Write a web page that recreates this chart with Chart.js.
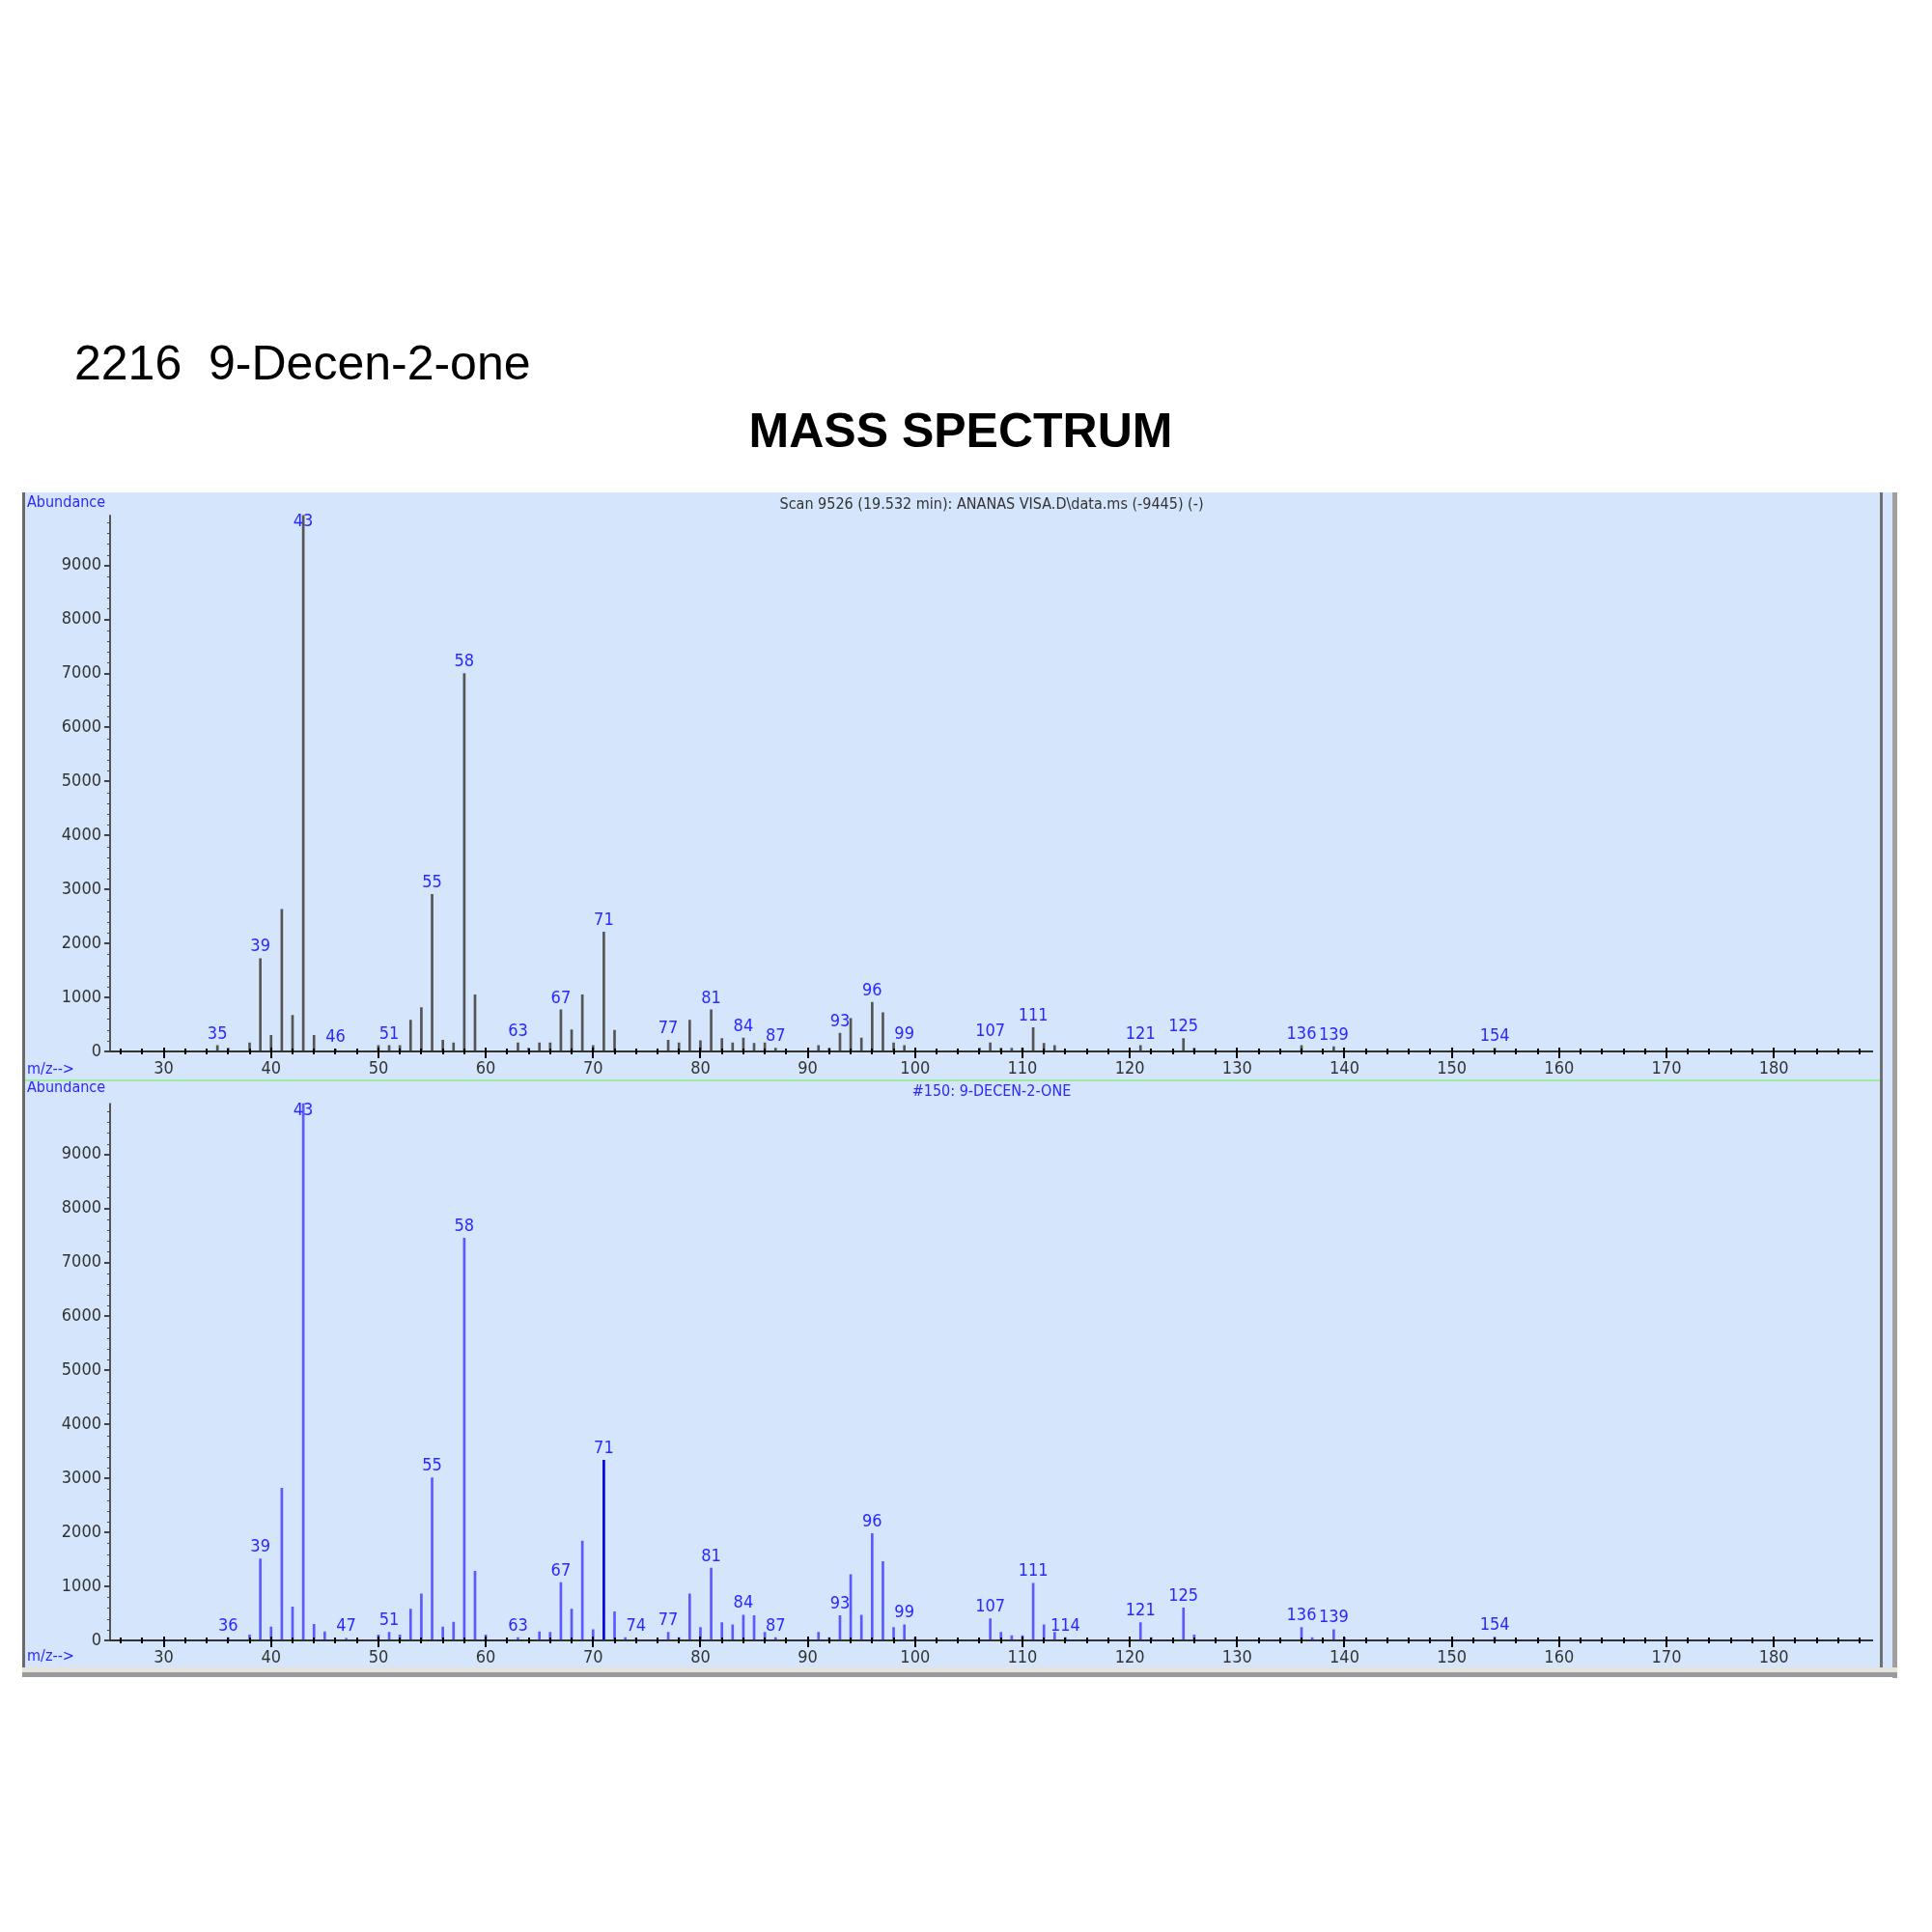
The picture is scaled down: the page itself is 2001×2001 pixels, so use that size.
<!DOCTYPE html>
<html>
<head>
<meta charset="utf-8">
<script src="https://cdn.jsdelivr.net/npm/chart.js@4.4.0/dist/chart.umd.min.js"></script>
<style>
  body { margin: 0; width: 2001px; height: 2001px; background: #fff; position: relative; overflow: hidden;
         font-family: "Liberation Sans", Arial, sans-serif; }
  #titulo { position: absolute; left: 77px; top: 347px; font-size: 50px; line-height: 58px; color: #000; }
  #subtitulo { position: absolute; left: 0; width: 1990px; top: 417px; text-align: center;
               font-size: 50px; line-height: 58px; font-weight: bold; color: #000; }
  #painel { position: absolute; left: 23px; top: 510px; width: 1942px; height: 1225px; background: rgb(213,229,251); }
  #bordaEsq { position: absolute; left: 23px; top: 510px; width: 3px; height: 1225px; background: #6a6a6a; }
  #bordaDir1 { position: absolute; left: 1947px; top: 510px; width: 3px; height: 1218px; background: #707070; }
  #bordaDir2 { position: absolute; left: 1960px; top: 510px; width: 5px; height: 1228px; background: #a0a0a0; }
  #bordaBaixo { position: absolute; left: 23px; top: 1727px; width: 1942px; height: 10px;
                background: linear-gradient(#e6e3dc 0 50%, #9a9a9a 50% 100%); }
  #linhaVerde { position: absolute; left: 26px; top: 1118px; width: 1921px; height: 2px; background: rgb(160,235,160); }
  canvas { position: absolute; }
  #graficoAmostra { left: 26px; top: 510px; }
  #graficoBiblioteca { left: 26px; top: 1120px; }
</style>
</head>
<body>
<div id="titulo">2216&nbsp;&nbsp;9-Decen-2-one</div>
<div id="subtitulo">MASS SPECTRUM</div>
<div id="painel"></div>
<div id="bordaEsq"></div>
<div id="bordaDir1"></div>
<div id="bordaDir2"></div>
<div id="bordaBaixo"></div>
<div id="linhaVerde"></div>
<canvas id="graficoAmostra" width="1920" height="608"></canvas>
<canvas id="graficoBiblioteca" width="1920" height="607"></canvas>

<script>
// Espectro medido (scan 9526)
const mzAmostra = [35, 36, 38, 39, 40, 41, 42, 43, 44, 46, 50, 51, 52, 53, 54, 55, 56, 57, 58, 59,
  63, 64, 65, 66, 67, 68, 69, 70, 71, 72, 77, 78, 79, 80, 81, 82, 83, 84, 85, 86,
  87, 91, 92, 93, 94, 95, 96, 97, 98, 99, 106, 107, 108, 109, 110, 111, 112, 113, 121, 125,
  126, 136, 139, 154];
const abAmostra = [110, 60, 160, 1720, 300, 2630, 670, 9930, 300, 40, 110, 110, 110, 580, 810, 2910, 210, 160, 7000, 1050,
  160, 60, 160, 160, 770, 400, 1050, 110, 2210, 390, 210, 160, 580, 200, 770, 240, 160, 250, 150, 160,
  60, 110, 60, 340, 610, 250, 910, 720, 160, 110, 60, 160, 60, 60, 60, 440, 150, 110, 110, 240,
  60, 110, 90, 60];
const rotulosAmostra = [35, 39, 43, 46, 51, 55, 58, 63, 67, 71, 77, 81, 84, 87, 93, 96, 99, 107, 111, 121, 125, 136, 139, 154];

// Espectro da biblioteca (#150)
const mzBiblioteca = [36, 38, 39, 40, 41, 42, 43, 44, 45, 47, 50, 51, 52, 53, 54, 55, 56, 57, 58, 59,
  60, 63, 65, 66, 67, 68, 69, 70, 71, 72, 73, 74, 77, 78, 79, 80, 81, 82, 83, 84,
  85, 86, 87, 91, 92, 93, 94, 95, 96, 97, 98, 99, 100, 107, 108, 109, 110, 111, 112, 113,
  114, 121, 122, 125, 126, 136, 137, 139, 140, 154];
const abBiblioteca = [50, 100, 1510, 250, 2820, 620, 9940, 300, 160, 40, 100, 150, 100, 580, 860, 3010, 250, 340, 7450, 1280,
  100, 50, 160, 150, 1070, 580, 1840, 200, 3340, 530, 50, 40, 150, 50, 860, 240, 1340, 330, 290, 470,
  460, 150, 50, 150, 50, 460, 1220, 470, 1980, 1460, 240, 290, 50, 400, 150, 90, 90, 1060, 290, 150,
  50, 330, 50, 600, 100, 240, 50, 200, 50, 60];
const rotulosBiblioteca = [36, 39, 43, 47, 51, 55, 58, 63, 67, 71, 74, 77, 81, 84, 87, 93, 96, 99, 107, 111, 114, 121, 125, 136, 139, 154];

const FONTE = "'Liberation Sans Narrow', 'DejaVu Sans Condensed', 'Arial Narrow', sans-serif";
const AZUL = 'rgb(40,40,255)';

// Desenha eixos, marcas, rótulos dos picos e textos do cabeçalho
function pluginEspectro(cfg) {
  return {
    id: 'espectro',
    afterDatasetsDraw(chart) {
      const ctx = chart.ctx;
      const area = chart.chartArea;
      const x = chart.scales.x;
      const y = chart.scales.y;
      ctx.save();

      // eixo y com marcas a cada 200
      ctx.strokeStyle = '#555';
      ctx.lineWidth = 2;
      ctx.beginPath();
      ctx.moveTo(area.left, y.getPixelForValue(0));
      ctx.lineTo(area.left, y.getPixelForValue(cfg.topoEixo));
      ctx.stroke();
      ctx.fillStyle = '#444';
      for (let v = 0; v <= 9800; v += 200) {
        const py = Math.round(y.getPixelForValue(v));
        if (v % 1000 === 0) ctx.fillRect(area.left - 6, py - 1, 6, 2);
        else ctx.fillRect(area.left - 3, py, 2, 1);
      }

      // eixo x com marcas a cada 2
      const base = Math.round(y.getPixelForValue(0));
      ctx.fillStyle = '#333';
      ctx.fillRect(area.left, base - 1, area.right - area.left, 2);
      ctx.fillStyle = '#000';
      for (let m = 26; m <= 188; m += 2) {
        const px = Math.round(x.getPixelForValue(m));
        if (m % 10 === 0) ctx.fillRect(px - 1, base - 4, 2, 11);
        else ctx.fillRect(px - 1, base - 3, 2, 6);
      }

      // rótulos dos picos
      ctx.font = '18px ' + FONTE;
      ctx.fillStyle = AZUL;
      ctx.textAlign = 'center';
      ctx.textBaseline = 'bottom';
      cfg.rotulos.forEach(m => {
        const i = cfg.mz.indexOf(m);
        const px = x.getPixelForValue(m);
        let py = y.getPixelForValue(cfg.ab[i]) - 3;
        py = Math.max(py, area.top + 20);
        ctx.fillText(String(m), px, py);
      });

      // textos do cabeçalho
      ctx.textBaseline = 'middle';
      ctx.textAlign = 'left';
      ctx.font = '16px ' + FONTE;
      ctx.fillStyle = AZUL;
      ctx.fillText('Abundance', 2, cfg.yAbundancia);
      ctx.fillText('m/z-->', 2, cfg.yMz);
      ctx.textAlign = 'center';
      ctx.fillStyle = cfg.corTitulo;
      ctx.fillText(cfg.titulo, 1001, cfg.yTitulo);
      ctx.restore();
    }
  };
}

function montarEspectro(idCanvas, cfg) {
  const dados = cfg.mz.map((m, i) => ({ x: m, y: cfg.ab[i] }));
  new Chart(document.getElementById(idCanvas), {
    type: 'bar',
    data: {
      datasets: [{
        data: dados,
        backgroundColor: cfg.corBarra,
        barThickness: 2,
        borderWidth: 0
      }]
    },
    options: {
      responsive: false,
      animation: false,
      layout: { padding: { left: 0, right: 6, top: cfg.topo, bottom: 0 } },
      plugins: { legend: { display: false }, tooltip: { enabled: false } },
      scales: {
        x: {
          type: 'linear',
          offset: false,
          min: 25.0,
          max: 189.25,
          grid: { display: false, drawTicks: false, offset: false },
          border: { display: false },
          ticks: { stepSize: 10, includeBounds: false, padding: 8, color: '#333', font: { family: FONTE, size: 18 } },
          afterFit: s => { s.height = cfg.alturaX; }
        },
        y: {
          min: 0,
          max: 10000,
          grid: { display: false, drawTicks: false },
          border: { display: false },
          ticks: {
            stepSize: 1000, includeBounds: false, padding: 9, color: '#333',
            font: { family: FONTE, size: 18 },
            callback: v => (v >= 10000 ? '' : v)
          },
          afterFit: s => { s.width = 88; }
        }
      }
    },
    plugins: [pluginEspectro(cfg)]
  });
}

window.addEventListener('DOMContentLoaded', () => {
  montarEspectro('graficoAmostra', {
    mz: mzAmostra, ab: abAmostra, rotulos: rotulosAmostra,
    corBarra: 'rgb(85,85,85)',
    topo: 19, alturaX: 29, topoEixo: 9940,
    titulo: 'Scan 9526 (19.532 min): ANANAS VISA.D\\data.ms (-9445) (-)',
    corTitulo: '#333', yTitulo: 13, yAbundancia: 11, yMz: 598
  });
  montarEspectro('graficoBiblioteca', {
    mz: mzBiblioteca, ab: abBiblioteca, rotulos: rotulosBiblioteca,
    corBarra: ctx => (ctx.raw && ctx.raw.x === 71 ? 'rgb(0,0,220)' : 'rgb(90,90,255)'),
    topo: 19, alturaX: 28, topoEixo: 9950,
    titulo: '#150: 9-DECEN-2-ONE',
    corTitulo: AZUL, yTitulo: 11, yAbundancia: 7, yMz: 596
  });
});
</script>
</body>
</html>
